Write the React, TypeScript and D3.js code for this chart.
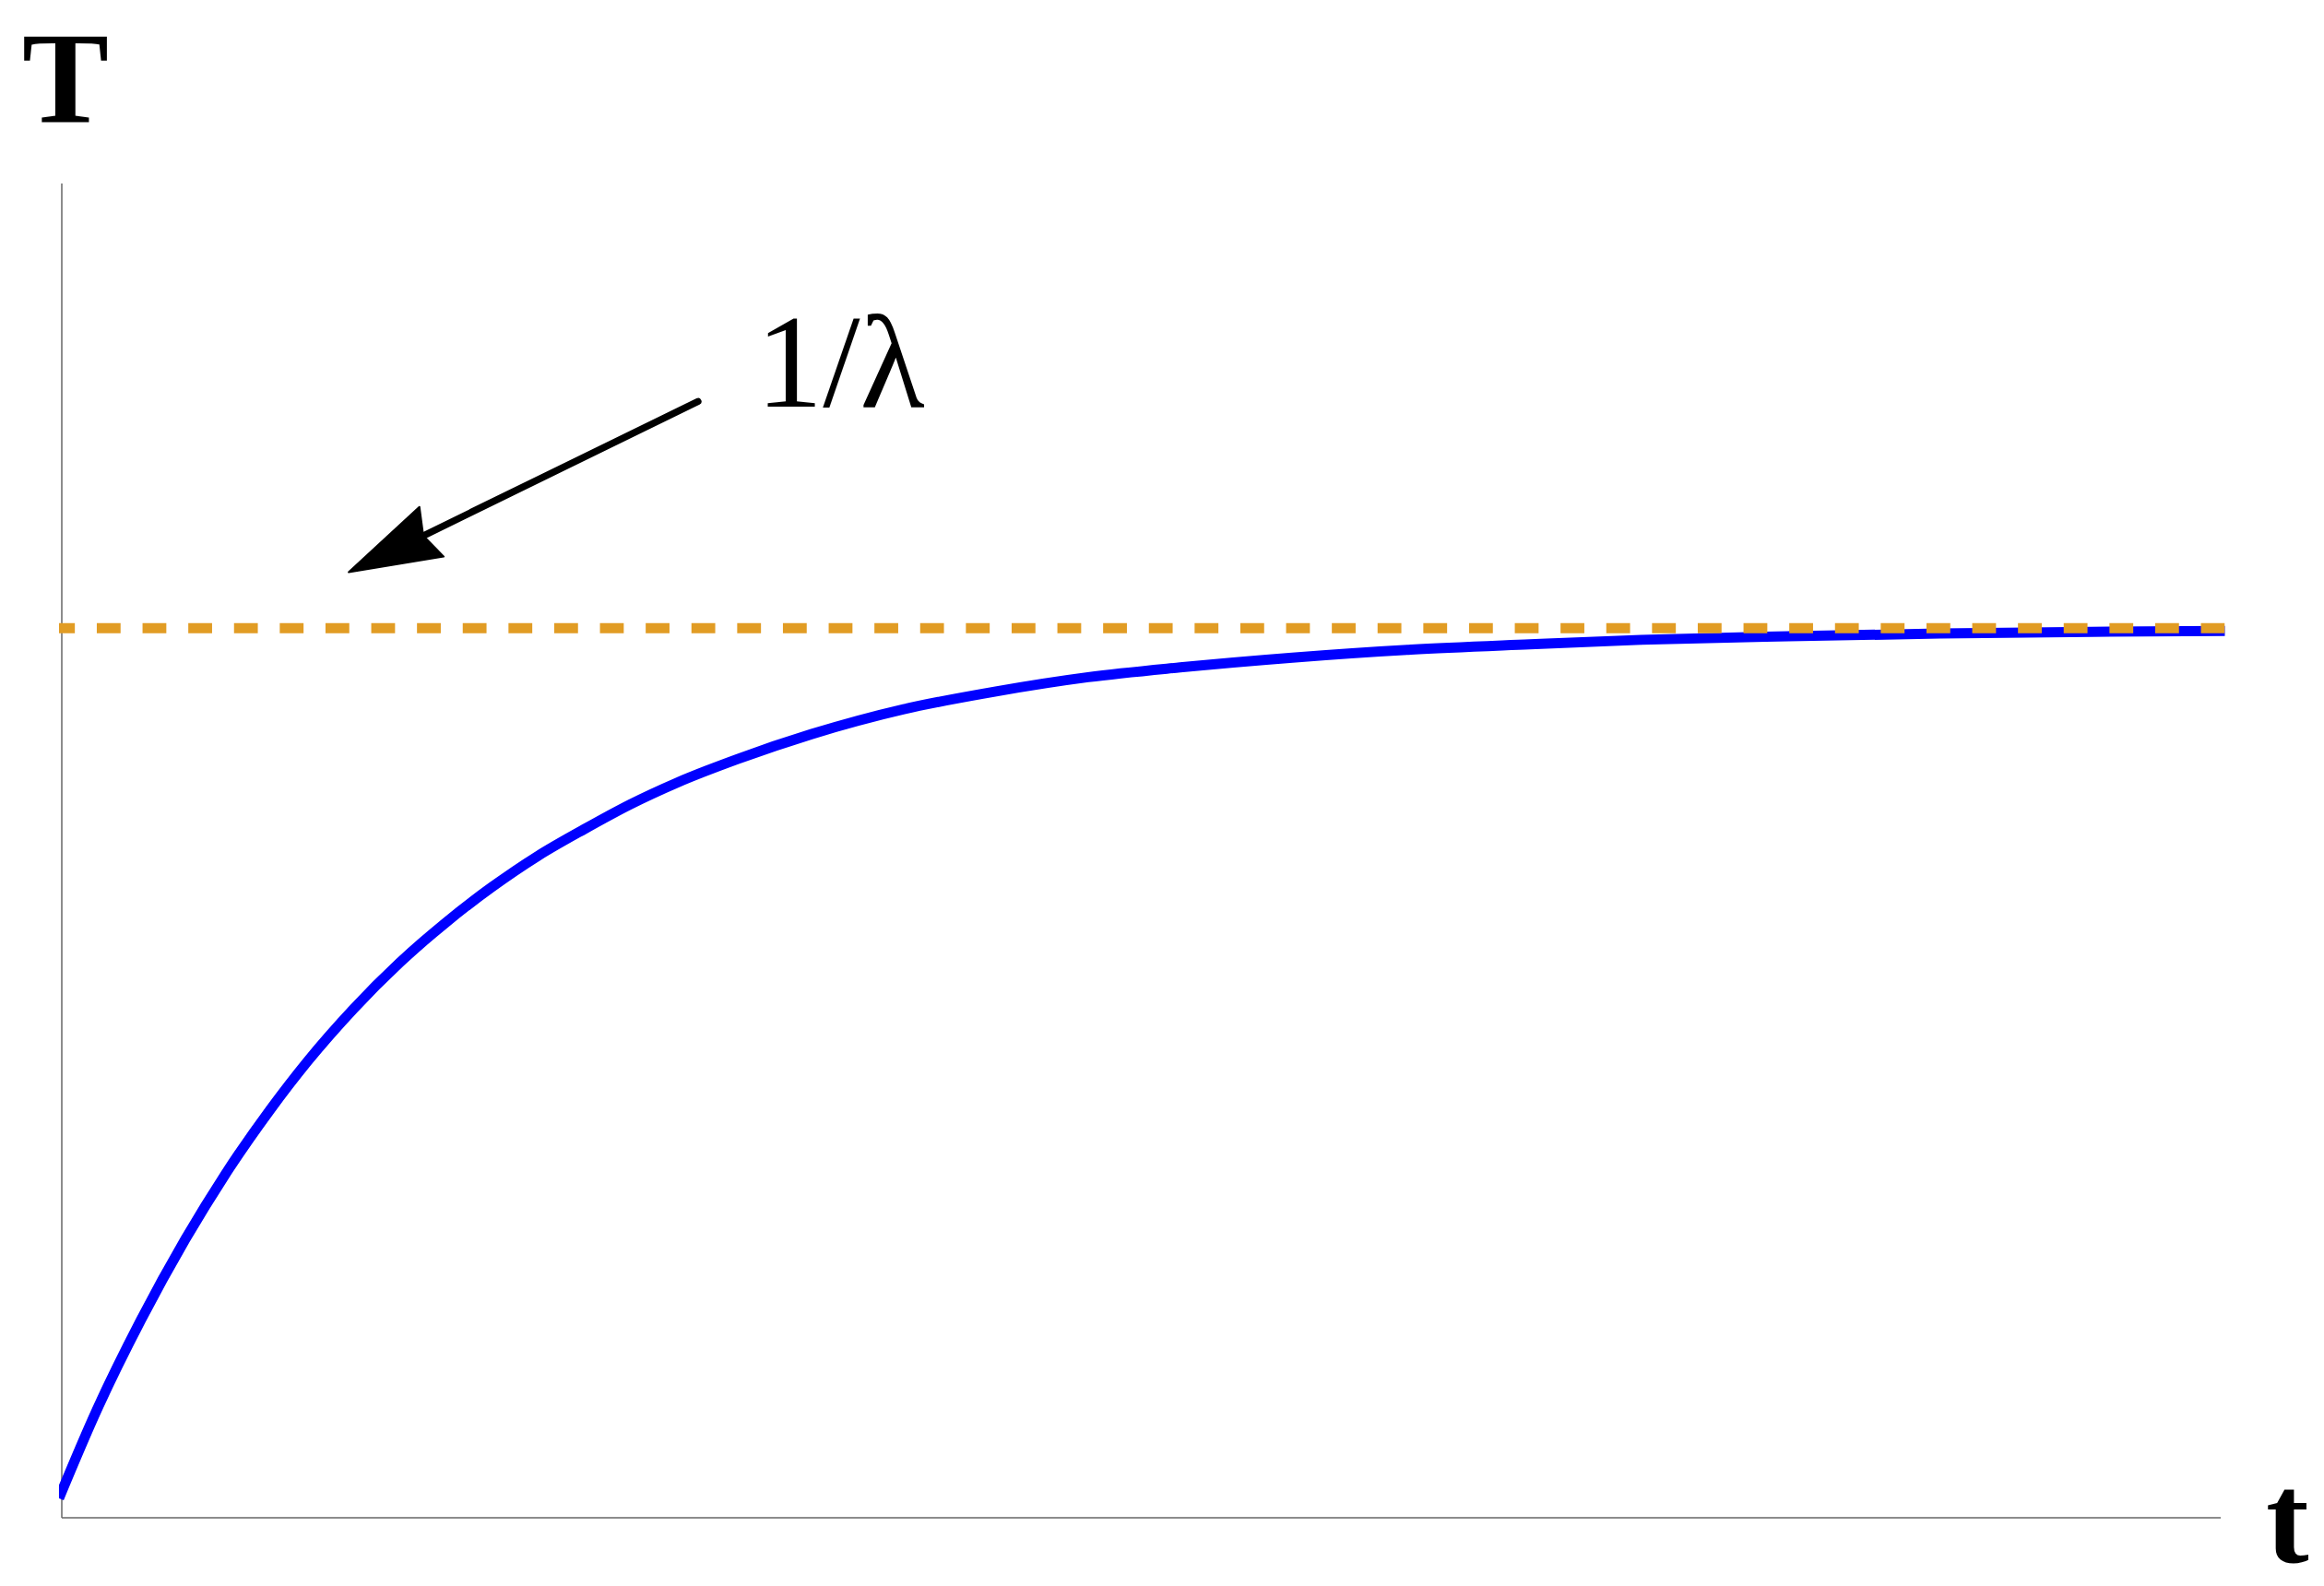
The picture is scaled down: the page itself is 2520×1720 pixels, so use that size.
import * as d3 from "d3";

const WIDTH = 2520;
const HEIGHT = 1720;

// curve: time t against T (the asymptote 1/λ is 1)
const tValues = [
  -0.013, 0.16, 0.366, 0.572, 0.757, 0.963, 1.138, 1.351, 1.565, 1.778, 1.992,
  2.205, 2.419, 2.633, 2.846, 3.131, 3.473, 3.9, 4.327, 4.754, 5.18, 5.7, 6.25,
  6.8, 7.317, 8.0, 8.7, 9.4, 10.02,
];
const TValues = [
  0.022, 0.12, 0.222, 0.313, 0.386, 0.458, 0.513, 0.572, 0.624, 0.669, 0.709,
  0.744, 0.774, 0.802, 0.826, 0.853, 0.881, 0.909, 0.929, 0.945, 0.956, 0.967,
  0.976, 0.982, 0.987, 0.991, 0.994, 0.996, 0.997,
];
const asymptoteT = 1;

const tDomain = [0, 10];
const TDomain = [0, 1.5];
const plotRange = [-0.013, 10.02];

const xLabel = "t";
const yLabel = "T";
const noteText = "1/λ";
const arrowFrom = [2.947, 1.255];
const arrowTo = [1.329, 1.063];
const noteAt = [3.215, 1.249];

const margin = { left: 67, right: 112, top: 199, bottom: 74 };
const serif = "'Liberation Serif', 'Times New Roman', Tinos, Times, serif";

export default function App() {
  const x = d3
    .scaleLinear()
    .domain(tDomain)
    .range([margin.left, WIDTH - margin.right]);
  const y = d3
    .scaleLinear()
    .domain(TDomain)
    .range([HEIGHT - margin.bottom, margin.top]);

  const points = tValues.map((t, i) => [t, TValues[i]]);
  const line = d3
    .line()
    .x((d) => x(d[0]))
    .y((d) => y(d[1]))
    .curve(d3.curveMonotoneX);

  const clipX0 = x(plotRange[0]);
  const clipX1 = x(plotRange[1]);

  return (
    <svg
      width={WIDTH}
      height={HEIGHT}
      style={{ position: "absolute", left: 0, top: 0, display: "block" }}
    >
      <rect x={0} y={0} width={WIDTH} height={HEIGHT} fill="#ffffff" />
      <defs>
        <clipPath id="plotClip">
          <rect
            x={clipX0}
            y={0}
            width={clipX1 - clipX0}
            height={y(TDomain[0]) + 20}
          />
        </clipPath>
      </defs>
      <Axes x={x} y={y} />
      <g clipPath="url(#plotClip)">
        <path
          d={line(points)}
          fill="none"
          stroke="#0000ff"
          strokeWidth={11}
          strokeLinejoin="round"
        />
        <line
          x1={clipX0}
          x2={clipX1}
          y1={y(asymptoteT)}
          y2={y(asymptoteT)}
          stroke="#e19c24"
          strokeWidth={11}
          strokeDasharray="25.8 23.8"
          strokeDashoffset={8.6}
        />
      </g>
      <Arrow x={x} y={y} />
      <text
        x={x(noteAt[0])}
        y={y(noteAt[1])}
        fontSize={145}
        fill="#000000"
        style={{ fontFamily: serif }}
      >
        {noteText}
      </text>
    </svg>
  );
}

function Axes({ x, y }) {
  const x0 = x(tDomain[0]),
    x1 = x(tDomain[1]);
  const y0 = y(TDomain[0]),
    y1 = y(TDomain[1]);
  return (
    <g>
      <line x1={x0} x2={x1} y1={y0} y2={y0} stroke="#666666" strokeWidth={1.5} />
      <line x1={x0} x2={x0} y1={y0} y2={y1} stroke="#666666" strokeWidth={1.5} />
      <text
        x={x1 + 49}
        y={y0 + 48}
        fontSize={140}
        fontWeight="bold"
        fill="#000000"
        style={{ fontFamily: serif }}
      >
        {xLabel}
      </text>
      <text
        x={x0 - 43}
        y={y1 - 66}
        fontSize={141}
        fontWeight="bold"
        fill="#000000"
        style={{ fontFamily: serif }}
      >
        {yLabel}
      </text>
    </g>
  );
}

function Arrow({ x, y }) {
  const sx = x(arrowFrom[0]),
    sy = y(arrowFrom[1]);
  const tx = x(arrowTo[0]),
    ty = y(arrowTo[1]);
  const len = Math.hypot(sx - tx, sy - ty);
  const ux = (sx - tx) / len,
    uy = (sy - ty) / len;
  const nx = -uy,
    ny = ux;
  const headLen = 100,
    headHalf = 30,
    notch = 90;
  const pt = (a, b) => [tx + ux * a + nx * b, ty + uy * a + ny * b];
  const head = [pt(0, 0), pt(headLen, headHalf), pt(notch, 0), pt(headLen, -headHalf)];
  const neck = pt(notch, 0);
  return (
    <g>
      <line
        x1={sx}
        y1={sy}
        x2={neck[0]}
        y2={neck[1]}
        stroke="#000000"
        strokeWidth={7.5}
        strokeLinecap="round"
      />
      <path
        d={d3.line()(head) + "Z"}
        fill="#000000"
        stroke="#000000"
        strokeWidth={2}
        strokeLinejoin="round"
      />
    </g>
  );
}
